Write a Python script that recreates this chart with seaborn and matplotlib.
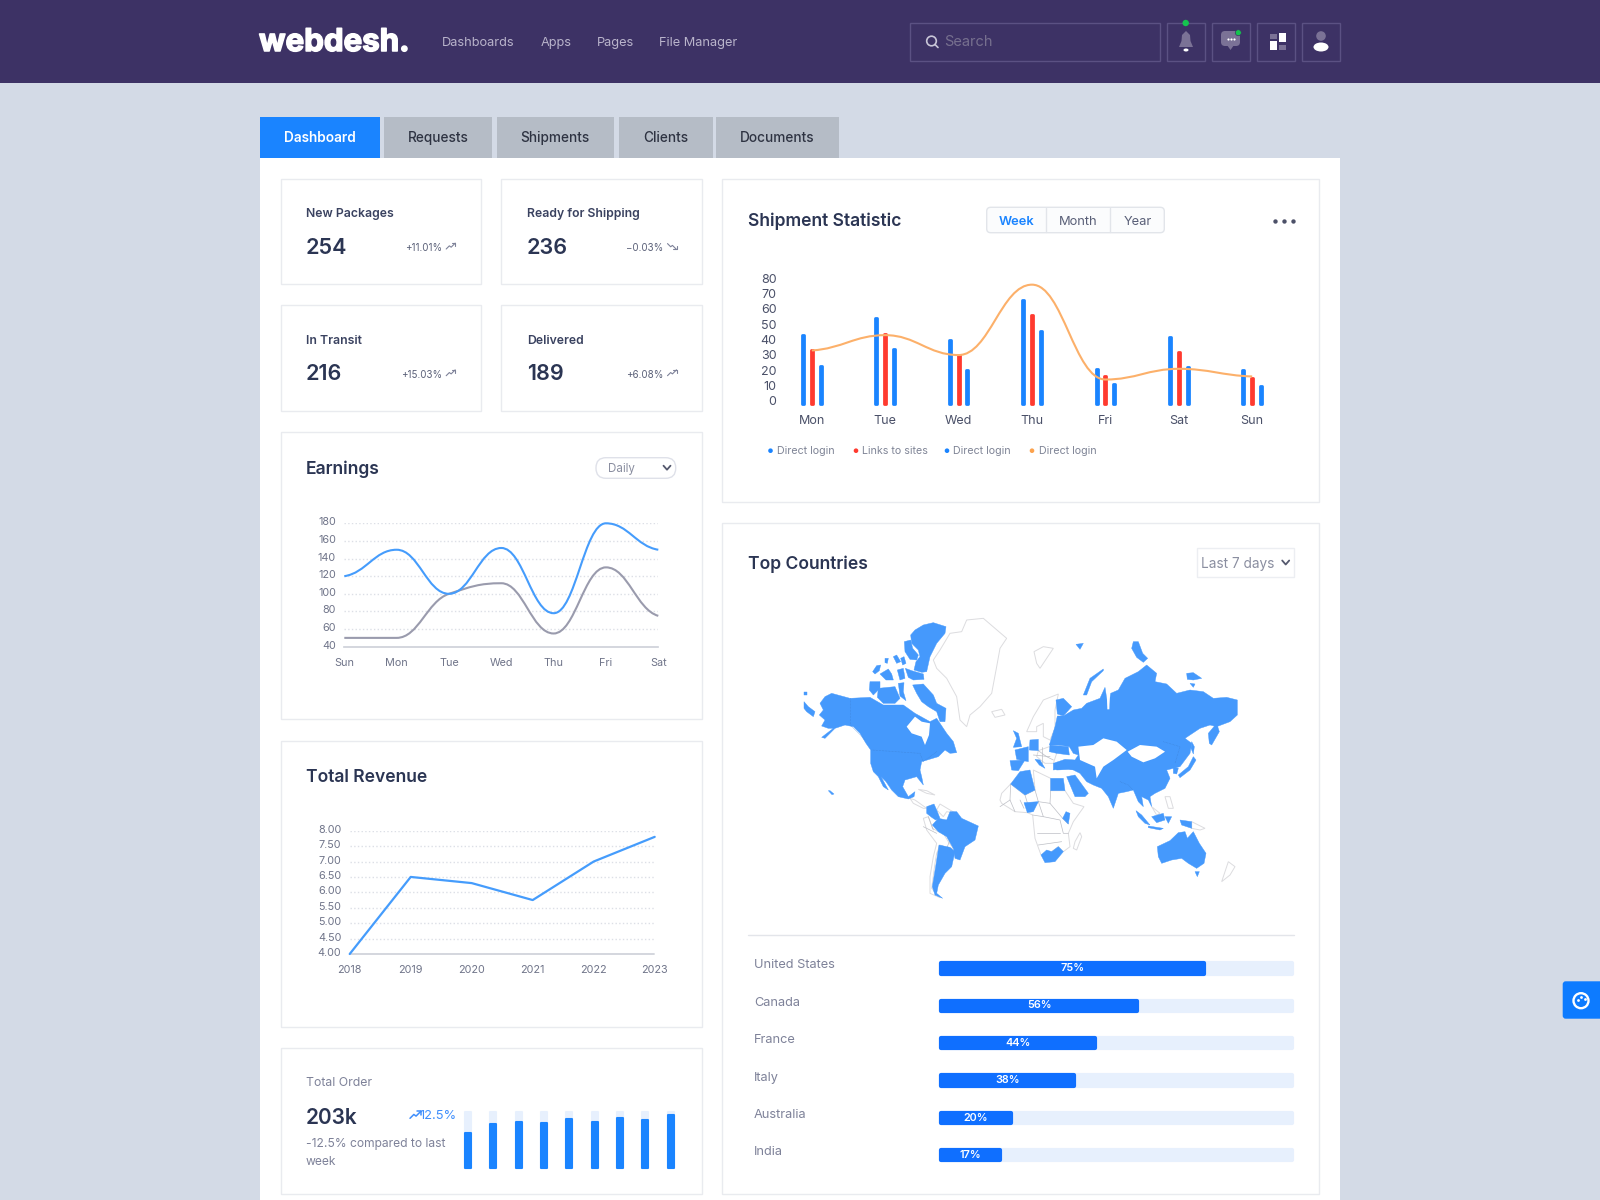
"""
Rebuilds the webdesh shipping dashboard as one matplotlib figure.
Layout is in pixels on a full-figure background axes, charts are seaborn insets.
"""

import matplotlib

matplotlib.use("Agg")
import matplotlib.patheffects as pe
import matplotlib.pyplot as plt
import numpy as np
import pandas as pd
import seaborn as sns
from matplotlib.patches import Circle, Ellipse, FancyBboxPatch, PathPatch, Polygon, Rectangle
from matplotlib.path import Path
from matplotlib.transforms import ScaledTranslation

# ---- data ----
NAV_ITEMS = ["Dashboards", "Apps", "Pages", "File Manager"]
TAB_LABELS = ["Dashboard", "Requests", "Shipments", "Clients", "Documents"]

KPI_LABELS = ["New Packages", "Ready for Shipping", "In Transit", "Delivered"]
KPI_VALUES = ["254", "236", "216", "189"]
KPI_CHANGES = ["+11.01%", "-0.03%", "+15.03%", "+6.08%"]

WEEK_DAYS = ["Mon", "Tue", "Wed", "Thu", "Fri", "Sat", "Sun"]
SHIP_DIRECT_A = [45, 56, 42, 68, 23, 44, 22]
SHIP_LINKS = [35, 46, 32, 58, 18, 34, 17]
SHIP_DIRECT_B = [25, 36, 22, 48, 13, 24, 12]
SHIP_TREND = [35, 45, 32, 78, 16, 23, 18]
SHIP_TICKS = [0, 10, 20, 30, 40, 50, 60, 70, 80]
SHIP_LEGEND = ["Direct login", "Links to sites", "Direct login", "Direct login"]

EARN_DAYS = ["Sun", "Mon", "Tue", "Wed", "Thu", "Fri", "Sat"]
EARN_BLUE = [120, 150, 100, 152, 78, 180, 150]
EARN_GREY = [50, 50, 100, 112, 55, 130, 75]
EARN_TICKS = [40, 60, 80, 100, 120, 140, 160, 180]

REV_YEARS = ["2018", "2019", "2020", "2021", "2022", "2023"]
REV_VALUES = [4.0, 6.5, 6.3, 5.75, 7.0, 7.8]
REV_TICKS = [4.0, 4.5, 5.0, 5.5, 6.0, 6.5, 7.0, 7.5, 8.0]

ORDER_BARS = [63, 79, 82, 80, 87, 83, 90, 86, 94]

COUNTRIES = ["United States", "Canada", "France", "Italy", "Australia", "India"]
COUNTRY_SHARE = [75, 56, 44, 38, 20, 17]

# map outlines, in map-panel units
MAP_FILLED = [
    [(392,105),(395,130),(415,150),(420,170),(408,185),(402,210),(425,217),(440,215),(450,170),(470,130),(495,100),(498,80),(460,68),(430,75),(405,90)],
    [(373,125),(392,120),(398,145),(415,165),(410,180),(390,178),(375,155)],
    [(278,215),(290,197),(302,195),(298,212),(285,222)],
    [(300,222),(325,207),(335,222),(340,240),(318,240)],
    [(340,170),(350,165),(362,185),(350,190)],
    [(315,175),(325,175),(322,190),(315,188)],
    [(362,175),(372,170),(378,190),(368,195)],
    [(352,210),(370,205),(375,235),(360,240)],
    [(376,205),(395,212),(430,222),(432,238),(400,240),(385,232)],
    [(270,245),(300,245),(300,265),(280,285),(268,270)],
    [(295,265),(345,260),(360,295),(345,310),(310,310),(292,292)],
    [(355,250),(372,248),(370,275),(378,302),(360,288)],
    [(398,255),(430,252),(460,285),(470,310),(498,325),(495,365),(480,365),(470,335),(445,320),(425,305),(410,280)],
    [(120,310),(135,290),(155,280),(210,295),(270,292),(310,315),(370,315),(405,340),(450,365),(470,355),(500,400),(520,425),(530,458),(510,460),(495,450),(475,470),(425,485),(420,510),(425,530),(430,555),(422,545),(410,530),(375,540),(368,560),(385,590),(405,575),(402,590),(385,597),(355,590),(335,570),(318,545),(303,530),(325,570),(310,560),(295,530),(280,515),(272,490),(272,450),(258,430),(240,400),(220,380),(195,375),(165,385),(135,415),(125,412),(160,385),(145,385),(125,378),(135,360),(118,345),(130,330)],
    [(72,305),(85,320),(105,335),(100,350),(80,335),(72,325)],
    [(72,277),(80,277),(80,285),(72,285)],
    [(145,572),(150,572),(162,582),(156,584)],
    [(440,620),(462,612),(470,630),(480,655),(467,660),(455,652),(440,640)],
    [(457,675),(475,655),(500,660),(510,635),(530,635),(545,655),(595,678),(585,720),(555,740),(540,780),(525,775),(520,745),(500,710),(475,695)],
    [(477,735),(510,742),(525,755),(515,800),(495,820),(475,855),(470,880),(488,895),(465,885),(457,860),(467,800)],
    [(1132,740),(1170,722),(1195,698),(1215,695),(1222,715),(1240,695),(1258,730),(1278,760),(1272,790),(1250,805),(1225,790),(1205,775),(1175,780),(1145,790),(1135,770)],
    [(1245,815),(1258,815),(1252,830)],
    [(825,380),(832,348),(850,348),(880,330),(905,325),(920,310),(960,295),(975,262),(985,325),(992,280),(1015,270),(1035,235),(1075,215),(1100,195),(1130,220),(1125,245),(1160,252),(1190,280),(1230,270),(1270,275),(1300,295),(1340,292),(1372,300),(1372,345),(1350,365),(1310,380),(1290,375),(1260,385),(1215,415),(1235,430),(1230,460),(1200,500),(1160,510),(1170,535),(1155,565),(1125,580),(1110,590),(1115,620),(1105,600),(1085,590),(1090,620),(1075,605),(1060,570),(1040,575),(1015,580),(1000,625),(985,590),(965,565),(940,555),(920,545),(900,520),(880,510),(860,505),(820,510),(820,490),(855,478),(885,480),(895,465),(880,460),(868,440),(835,435),(808,435)],
    [(828,300),(850,295),(875,320),(850,348),(832,342)],
    [(860,530),(885,525),(925,580),(915,590),(885,590)],
    [(812,535),(850,535),(855,572),(812,572)],
    [(692,552),(720,515),(750,510),(765,570),(735,585)],
    [(732,608),(775,605),(760,635),(742,638)],
    [(848,655),(858,635),(870,640),(865,672)],
    [(783,765),(800,750),(815,755),(835,740),(850,755),(825,785),(795,788)],
    [(690,482),(735,480),(715,512),(695,510)],
    [(705,450),(745,440),(745,485),(710,478)],
    [(700,392),(715,400),(725,440),(700,442),(710,415)],
    [(750,420),(775,418),(775,452),(748,450)],
    [(765,478),(780,480),(795,505),(778,495)],
    [(810,435),(865,440),(868,465),(830,460),(808,455)],
    [(822,490),(880,485),(880,508),(830,510)],
    [(910,285),(930,235),(970,207),(970,212),(935,245),(920,285)],
    [(888,133),(910,130),(900,148)],
    [(1060,125),(1075,125),(1088,160),(1103,175),(1090,187),(1070,172),(1055,145)],
    [(1220,220),(1240,218),(1265,235),(1240,240),(1222,238)],
    [(1230,250),(1245,252),(1240,262)],
    [(1285,400),(1310,370),(1318,395),(1295,435),(1288,430)],
    [(1195,525),(1225,500),(1240,470),(1248,480),(1230,510),(1200,533)],
    [(1235,425),(1243,440),(1240,462),(1233,445)],
    [(1180,500),(1195,505),(1190,522),(1180,520)],
    [(1068,632),(1085,645),(1110,675),(1095,670),(1075,650)],
    [(1105,678),(1150,685),(1140,690),(1105,683)],
    [(1115,650),(1150,640),(1155,660),(1130,668)],
    [(1155,650),(1175,650),(1165,670)],
    [(1200,660),(1235,665),(1235,685),(1205,675)],
]
MAP_HOLES = [
    [(380,380),(405,350),(425,365),(450,370),(447,405),(435,435),(425,410),(395,400)],
    [(895,440),(940,435),(970,415),(1010,425),(1040,450),(1000,480),(970,500),(950,535),(945,500),(900,480)],
    [(1043,455),(1080,435),(1130,440),(1155,455),(1125,475),(1090,487),(1055,470)],
    [(980,265),(990,265),(988,328),(982,328)],
]
MAP_OUTLINED = [
    [(460,180),(480,150),(510,100),(545,95),(560,60),(610,55),(645,85),(680,115),(660,145),(650,200),(635,280),(600,320),(570,345),(560,380),(540,360),(530,290),(500,235),(470,205)],
    [(635,335),(665,328),(675,345),(645,352)],
    [(762,155),(790,140),(820,145),(800,175),(780,205),(770,190)],
    [(740,395),(760,350),(790,300),(835,282),(825,330),(825,385),(810,420),(790,410),(790,370),(770,380),(770,395)],
    [(660,600),(665,580),(692,552),(735,585),(765,570),(760,510),(812,535),(812,572),(855,572),(880,610),(912,620),(880,665),(865,700),(870,740),(850,755),(835,740),(815,755),(783,765),(765,715),(758,645),(742,638),(705,635),(665,610)],
    [(885,725),(900,698),(905,710),(890,750),(880,745)],
    [(430,655),(445,650),(458,685),(475,695),(490,700),(505,725),(520,745),(505,745),(480,735),(470,760),(465,790),(455,865),(480,893),(450,880),(450,830),(460,770),(470,730),(440,690)],
    [(390,595),(405,600),(440,625),(430,625),(400,610)],
    [(470,630),(480,612),(510,630),(528,640),(500,635),(490,650)],
    [(415,568),(440,572),(465,585),(440,580)],
    [(1345,785),(1365,800),(1350,825),(1325,845),(1330,830)],
    [(1235,665),(1275,685),(1260,690),(1235,685)],
    [(1155,590),(1170,590),(1180,625),(1165,625)],
    [(775,452),(808,440),(830,460),(820,490),(795,490),(770,470)],
    [(1115,620),(1140,640),(1130,645)],
]
MAP_BORDERS = [
    [(692,552),(690,600),(705,635)], [(735,585),(742,608)], [(765,570),(775,605),(810,610),(812,572)],
    [(775,605),(790,650),(758,645)], [(810,610),(848,655),(865,672)], [(790,650),(840,660),(850,700),(865,700)],
    [(770,700),(840,700)], [(775,735),(845,725)], [(660,620),(690,600)], [(720,600),(732,625)],
    [(775,452),(800,470),(820,480)], [(785,440),(785,490)], [(760,465),(810,470)],
    [(445,650),(460,690)], [(500,745),(510,720)], [(430,680),(470,700)],
    [(905,480),(960,490),(1000,500)], [(950,465),(990,490)],
]
MAP_BLUE_LINES = [
    [(212,295),(212,375),(255,420)], [(275,450),(420,460),(430,485),(470,455)],
    [(1020,545),(1045,555),(1060,570)], [(1150,425),(1200,440),(1185,490)],
]

# ---- colours ----
HEADER = "#3d3265"
PAGE_BG = "#d3dae6"
EDGE = "#e9ebef"
DARK = "#2b3553"
MUTED = "#7e8299"
BLUE = "#1a84ff"
RED = "#ff3a2f"
ORANGE = "#fcb06a"
LINE_BLUE = "#459cfc"
LINE_GREY = "#9a9bad"
MAP_BLUE = "#4599fc"
TRACK = "#e7f0fd"
BAR_BLUE = "#0f6fff"
GRID = "#dcdfe6"
FONT = ["Inter", "DejaVu Sans"]


def monotone_path(xs, ys):
    # cubic segments with flat tangents at peaks and troughs, like a chart library "smooth" line
    xs = np.asarray(xs, dtype=float)
    ys = np.asarray(ys, dtype=float)
    slopes = np.diff(ys) / np.diff(xs)
    tang = np.zeros(len(xs))
    for i in range(1, len(xs) - 1):
        if slopes[i - 1] * slopes[i] > 0:
            tang[i] = 2 * slopes[i - 1] * slopes[i] / (slopes[i - 1] + slopes[i])
    tang[0] = slopes[0] * 0.3
    tang[-1] = slopes[-1] * 0.3
    verts = [(xs[0], ys[0])]
    codes = [Path.MOVETO]
    for i in range(len(xs) - 1):
        h = (xs[i + 1] - xs[i]) * 0.42
        verts += [(xs[i] + h, ys[i] + tang[i] * h), (xs[i + 1] - h, ys[i + 1] - tang[i + 1] * h), (xs[i + 1], ys[i + 1])]
        codes += [Path.CURVE4] * 3
    return Path(verts, codes)


def inset(fig, x0, y0, x1, y1):
    ax = fig.add_axes([x0 / 1600, 1 - y1 / 1200, (x1 - x0) / 1600, (y1 - y0) / 1200])
    ax.patch.set_alpha(0)
    return ax


def box(ax, x0, y0, x1, y1, face="white", edge="none", lw=1.0, radius=0, z=1):
    if radius:
        patch = FancyBboxPatch((x0 + radius, y0 + radius), x1 - x0 - 2 * radius, y1 - y0 - 2 * radius,
                               boxstyle=f"round,pad={radius},rounding_size={radius}",
                               fc=face, ec=edge, lw=lw, zorder=z)
    else:
        patch = Rectangle((x0, y0), x1 - x0, y1 - y0, fc=face, ec=edge, lw=lw, zorder=z)
    ax.add_patch(patch)


def label(ax, x, y, text, size, color=DARK, weight="normal", ha="left"):
    ax.text(x, y + 1.5, text, fontsize=size, color=color, fontweight=weight, ha=ha, va="center", family=FONT, zorder=5)


def trend_arrow(ax, x, y, up=True, w=9, color=MUTED, lw=0.8):
    s = -1 if up else 1
    ax.plot([x, x + w * 0.35, x + w * 0.55, x + w], [y - s * w * 0.3, y + s * w * 0.05, y - s * w * 0.1, y + s * w * 0.35],
            color=color, lw=lw, zorder=5)
    ax.plot([x + w * 0.65, x + w, x + w], [y + s * w * 0.35, y + s * w * 0.35, y], color=color, lw=lw, zorder=5)


def chevron(ax, x, y, color="#55596e"):
    ax.plot([x - 3.5, x, x + 3.5], [y - 2, y + 2, y - 2], color=color, lw=1.3, zorder=5)


def shift_labels(labels, dy_px):
    for tick_label in labels:
        tick_label.set_transform(tick_label.get_transform() + ScaledTranslation(0, dy_px / 100, plt.gcf().dpi_scale_trans))


def round_bars(bars, lw):
    # rounded ends: the stroke of a bar with round joins makes the corners
    for bar in bars:
        bar.set_edgecolor(bar.get_facecolor())
        bar.set_linewidth(lw)
        bar.set_joinstyle("round")
        bar.set_clip_on(False)


def style_chart(ax, tick_color=MUTED, size=8):
    ax.set_xlabel("")
    ax.set_ylabel("")
    ax.tick_params(labelsize=size, colors=tick_color, length=0)
    for tick_label in ax.get_xticklabels() + ax.get_yticklabels():
        tick_label.set_family(FONT)


def draw_page(bg):
    box(bg, 0, 0, 1600, 83, face=HEADER)
    box(bg, 260, 158, 1340, 1200, face="white")
    logo = bg.text(259, 43, "webdesh.", fontsize=22.5, color="white", fontweight="bold", ha="left", va="center",
                   family=FONT, zorder=5)
    logo.set_path_effects([pe.withStroke(linewidth=1.1, foreground="white")])
    for name, x in zip(NAV_ITEMS, [442, 540.7, 596.7, 659.3]):
        label(bg, x, 41.5, name, 9.2, "#b9b4cb")

    box(bg, 910, 22.5, 1160, 60.5, face=HEADER, edge="#5b5183", lw=1)
    bg.add_patch(Circle((931.5, 41), 4.8, fc="none", ec="#c9c6d8", lw=1.2, zorder=5))
    bg.plot([935, 938], [44.5, 47.5], color="#c9c6d8", lw=1.2, zorder=5)
    label(bg, 944, 40.5, "Search", 10.5, "#77708f")
    for x0 in [1167, 1212, 1257, 1302]:
        box(bg, x0, 22.5, x0 + 38, 60.5, face=HEADER, edge="#5b5183", lw=1)

    # bell, comment, apps and user icons
    icon = "#7b7296"
    bg.add_patch(Polygon([(1179, 47), (1181.5, 41), (1182, 35), (1186, 31), (1190, 35), (1190.5, 41), (1193, 47)],
                         fc=icon, ec="none", zorder=5))
    bg.add_patch(Ellipse((1186, 50), 5, 3, fc="white", ec="none", zorder=5))
    bg.add_patch(Circle((1185.7, 23), 3.2, fc="#15c44f", ec="none", zorder=6))
    box(bg, 1221, 31, 1240, 46, face=icon, radius=4, z=5)
    bg.add_patch(Polygon([(1227, 45), (1234, 45), (1230.5, 50)], fc=icon, ec="none", zorder=5))
    bg.scatter([1227.5, 1230.5, 1233.5], [39, 39, 39], s=2.5, c="white", linewidths=0, zorder=6)
    bg.add_patch(Circle((1238.3, 32.7), 3.0, fc="#15c44f", ec=HEADER, lw=0.5, zorder=6))
    box(bg, 1269.5, 41, 1276.5, 50, face="white", z=5)
    box(bg, 1278.5, 33, 1285.5, 42, face="white", z=5)
    box(bg, 1269.5, 34, 1276.5, 39, face=icon, z=5)
    box(bg, 1278.5, 44.5, 1285.5, 49.5, face=icon, z=5)
    bg.add_patch(Circle((1321, 36), 4.8, fc=icon, ec="none", zorder=5))
    bg.add_patch(Ellipse((1321, 47), 15, 9, fc="white", ec="none", zorder=5))

    tab_edges = [(260, 380), (384, 492), (496.5, 614), (618.5, 713), (716, 839)]
    for i, (name, (x0, x1)) in enumerate(zip(TAB_LABELS, tab_edges)):
        box(bg, x0, 116.5, x1, 158, face=BLUE if i == 0 else "#b5bcc6")
        label(bg, (x0 + x1) / 2, 136.5, name, 9.8, "white" if i == 0 else "#2e3342",
              "semibold" if i == 0 else "medium", ha="center")

    cards = [(280.7, 178.7, 480.7, 284.3), (501.3, 178.7, 701.7, 284.3), (280.7, 305.3, 480.7, 411.3),
             (501.3, 305.3, 701.7, 411.3), (280.7, 432, 701.7, 719.3), (280.7, 740.5, 701.7, 1026.7),
             (280.7, 1048, 701.7, 1194), (722.3, 178.7, 1319.4, 502), (722.3, 522.5, 1319.4, 1193.5)]
    for x0, y0, x1, y1 in cards:
        box(bg, x0, y0, x1, y1, face="white", edge=EDGE, lw=1)

    # palette button on the right edge
    box(bg, 1562.7, 981.3, 1606, 1018.7, face="#0d7bff", radius=3)
    bg.add_patch(Circle((1581, 1000.7), 7.5, fc="none", ec="white", lw=1.7, zorder=5))
    bg.scatter([1577.5, 1581, 1585], [1000, 996.5, 999], s=4, c="white", linewidths=0, zorder=6)


def draw_kpis(bg):
    spots = [(306, 212.3), (527, 212.3), (306, 339), (527, 339)]
    right_edges = [441.7, 663, 441.7, 663]
    for i, (x, y) in enumerate(spots):
        label(bg, x, y, KPI_LABELS[i], 8.8, "#3a4260", "semibold")
        label(bg, x, y + 34, KPI_VALUES[i], 15.5, DARK, "semibold")
        label(bg, right_edges[i], y + 34, KPI_CHANGES[i].replace("-", "\u2212"), 7.0, "#5a6078", ha="right")
        trend_arrow(bg, right_edges[i] + 4.5, y + 34, up=not KPI_CHANGES[i].startswith("-"))


def draw_shipments(fig, bg):
    label(bg, 747.5, 220, "Shipment Statistic", 12.6, DARK, "semibold")
    box(bg, 986.7, 207.3, 1164.3, 232.7, face="#fbfcfd", edge="#e2e5ea", lw=1, radius=4)
    bg.plot([1046.4, 1046.4], [208, 232], color="#e2e5ea", lw=1, zorder=3)
    bg.plot([1110.4, 1110.4], [208, 232], color="#e2e5ea", lw=1, zorder=3)
    label(bg, 1016.6, 220.5, "Week", 9.3, BLUE, "semibold", ha="center")
    label(bg, 1078.6, 220.5, "Month", 9.3, "#5a6078", ha="center")
    label(bg, 1137.5, 220.5, "Year", 9.3, "#5a6078", ha="center")
    bg.scatter([1275.3, 1284.2, 1293], [220.7] * 3, s=10, c="#4c5068", linewidths=0, zorder=5)

    ax = inset(fig, 775.1, 281.6, 1288.9, 404)
    frame = pd.DataFrame({
        "day": WEEK_DAYS * 3,
        "value": SHIP_DIRECT_A + SHIP_LINKS + SHIP_DIRECT_B,
        "series": ["a"] * 7 + ["b"] * 7 + ["c"] * 7,
    })
    sns.barplot(data=frame, x="day", y="value", hue="series", palette=[BLUE, RED, BLUE], saturation=1,
                width=0.36, gap=0.77, legend=False, ax=ax)
    round_bars(ax.patches, 2.0)
    ax.add_patch(PathPatch(monotone_path(range(7), SHIP_TREND), fc="none", ec=ORANGE, lw=1.5, zorder=6))
    ax.set_xlim(-0.5, 6.5)
    ax.set_ylim(0, 80)
    ax.set_yticks(SHIP_TICKS)
    style_chart(ax, "#4a5068", 9)
    ax.tick_params(axis="y", pad=-1)
    ax.tick_params(axis="x", pad=8)
    shift_labels(ax.get_yticklabels(), 3.3)
    sns.despine(ax=ax, left=True, bottom=True)

    for name, dot_x, text_x, color in zip(SHIP_LEGEND, [770.5, 856, 947, 1032], [776.6, 862, 953, 1039],
                                          [BLUE, RED, BLUE, "#fca24d"]):
        bg.add_patch(Circle((dot_x, 450.7), 2.3, fc=color, ec="none", zorder=5))
        label(bg, text_x, 449.5, name, 7.7, "#7f8496")


def draw_earnings(fig, bg):
    label(bg, 306, 467.7, "Earnings", 12.6, DARK, "semibold")
    box(bg, 596, 457.7, 675.7, 478.3, face="white", edge="#dfe1e9", lw=1, radius=10)
    label(bg, 608, 467.5, "Daily", 8.3, "#8a8ea0")
    chevron(bg, 667, 467.7)

    ax = inset(fig, 344.3, 523.3, 658.3, 646.7)
    ax.set_xlim(0, 6)
    ax.set_ylim(40, 180)
    ax.set_yticks(EARN_TICKS)
    ax.set_xticks(range(7), EARN_DAYS)
    ax.grid(axis="y", ls=":", color=GRID, lw=1)
    ax.add_patch(PathPatch(monotone_path(range(7), EARN_GREY), fc="none", ec=LINE_GREY, lw=1.5, zorder=4, clip_on=False))
    ax.add_patch(PathPatch(monotone_path(range(7), EARN_BLUE), fc="none", ec=LINE_BLUE, lw=1.5, zorder=5, clip_on=False))
    style_chart(ax, "#6f7489", 7.8)
    ax.tick_params(axis="x", length=4, color=GRID, pad=4, labelcolor="#6f7489")
    ax.tick_params(axis="y", pad=6)
    shift_labels(ax.get_yticklabels(), 2)
    sns.despine(ax=ax, left=True)
    ax.spines["bottom"].set_color("#cfd2da")
    ax.spines["bottom"].set_linestyle((0, (1, 1)))


def draw_revenue(fig, bg):
    label(bg, 306, 775.7, "Total Revenue", 12.6, DARK, "semibold")
    ax = inset(fig, 349.7, 830.7, 654.7, 954)
    frame = pd.DataFrame({"year": range(len(REV_YEARS)), "value": REV_VALUES})
    sns.lineplot(data=frame, x="year", y="value", color=LINE_BLUE, lw=1.6, ax=ax, zorder=5)
    ax.lines[0].set_clip_on(False)
    ax.set_xlim(0, 5)
    ax.set_ylim(4, 8)
    ax.set_yticks(REV_TICKS, [f"{v:.2f}" for v in REV_TICKS])
    ax.set_xticks(range(6), REV_YEARS)
    ax.grid(axis="y", ls=":", color=GRID, lw=1)
    style_chart(ax, "#6f7489", 7.8)
    ax.tick_params(axis="x", length=4, color=GRID, pad=4, labelcolor="#6f7489")
    ax.tick_params(axis="y", pad=6)
    shift_labels(ax.get_yticklabels(), 2)
    sns.despine(ax=ax, left=True)
    ax.spines["bottom"].set_color("#cfd2da")
    ax.spines["bottom"].set_linestyle((0, (1, 1)))


def draw_orders(fig, bg):
    label(bg, 306, 1081.7, "Total Order", 8.8, "#7e8299")
    label(bg, 306, 1116, "203k", 15.0, DARK, "semibold")
    trend_arrow(bg, 410, 1115, up=True, w=11, color="#3f8efc", lw=1.1)
    label(bg, 456.5, 1114.5, "12.5%", 9.3, "#3f8efc", ha="right")
    label(bg, 306, 1142.7, "-12.5% compared to last", 8.7, "#7e8299")
    label(bg, 306, 1160.7, "week", 8.7, "#7e8299")

    ax = inset(fig, 455.3, 1112, 683.3, 1168)
    slots = list(range(len(ORDER_BARS)))
    sns.barplot(x=slots, y=[100] * len(slots), color=TRACK, saturation=1, width=0.233, ax=ax)
    sns.barplot(x=slots, y=ORDER_BARS, color=BLUE, saturation=1, width=0.233, ax=ax)
    round_bars(ax.patches, 1.5)
    ax.set_xlim(-0.5, 8.5)
    ax.set_ylim(0, 100)
    ax.axis("off")


def draw_countries(fig, bg):
    label(bg, 747.5, 562.5, "Top Countries", 12.6, DARK, "semibold")
    box(bg, 1197.3, 548.3, 1293.7, 576.7, face="white", edge="#eceef2", lw=1)
    label(bg, 1201, 562.5, "Last 7 days", 9.8, "#8a8ea0")
    chevron(bg, 1285.7, 562.5)
    bg.plot([748, 1293.7], [935.3, 935.3], color="#e3e5ea", lw=1, zorder=3)

    ax = inset(fig, 940.8, 949.7, 1291.9, 1174)
    sns.barplot(x=[100] * len(COUNTRIES), y=COUNTRIES, color=TRACK, saturation=1, width=0.276, ax=ax, orient="h")
    sns.barplot(x=COUNTRY_SHARE, y=COUNTRIES, color=BAR_BLUE, saturation=1, width=0.276, ax=ax, orient="h")
    round_bars(ax.patches, 3.0)
    for i, (name, share) in enumerate(zip(COUNTRIES, COUNTRY_SHARE)):
        ax.text(share / 2, i - 0.01, f"{share}%", color="white", fontsize=7.8, fontweight="semibold",
                ha="center", va="center", family=FONT)
        ax.text(-53.2, i - 0.08, name, color="#7e8299", fontsize=9.2, ha="left", va="center", family=FONT)
    ax.set_xlim(0, 100)
    ax.axis("off")


def draw_map(fig):
    ax = inset(fig, 780, 600, 1260, 910)
    ax.set_xlim(0, 1440)
    ax.set_ylim(930, 0)
    ax.axis("off")
    for shape in MAP_OUTLINED:
        ax.add_patch(Polygon(shape, closed=True, fc="white", ec="#dcdcdf", lw=0.7, zorder=1))
    for line in MAP_BORDERS:
        xs, ys = zip(*line)
        ax.plot(xs, ys, color="#bcbec5", lw=0.5, zorder=2)
    for shape in MAP_FILLED:
        ax.add_patch(Polygon(shape, closed=True, fc=MAP_BLUE, ec=MAP_BLUE, lw=0.3, zorder=3))
    for shape in MAP_HOLES:
        ax.add_patch(Polygon(shape, closed=True, fc="white", ec="none", zorder=4))
    for line in MAP_BLUE_LINES:
        xs, ys = zip(*line)
        ax.plot(xs, ys, color="#3c7fd0", lw=0.4, ls=":", zorder=5)


def main():
    sns.set_theme(style="white")
    plt.rcParams["font.family"] = FONT
    fig = plt.figure(figsize=(16, 12), dpi=100, facecolor=PAGE_BG)
    bg = fig.add_axes([0, 0, 1, 1])
    bg.set_xlim(0, 1600)
    bg.set_ylim(1200, 0)
    bg.axis("off")

    draw_page(bg)
    draw_kpis(bg)
    draw_shipments(fig, bg)
    draw_earnings(fig, bg)
    draw_revenue(fig, bg)
    draw_orders(fig, bg)
    draw_countries(fig, bg)
    draw_map(fig)

    fig.savefig("out.png", dpi=100, facecolor=PAGE_BG)
    plt.close(fig)


if __name__ == "__main__":
    main()
